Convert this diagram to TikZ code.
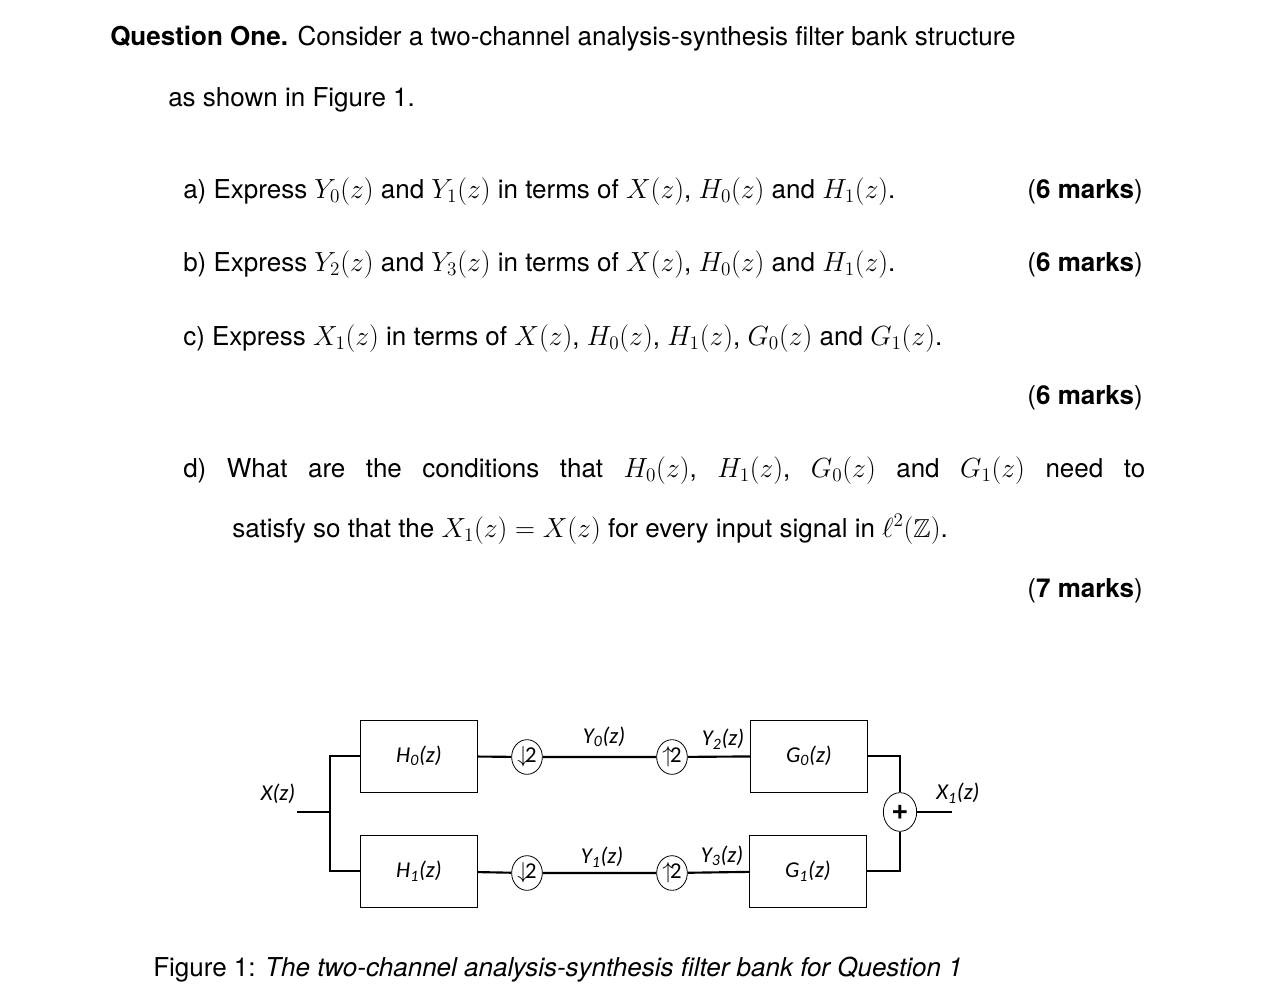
\documentclass[tikz,border=0pt]{standalone}
\usepackage{amssymb}
\usepackage{fontspec}
\usetikzlibrary{shapes.geometric}
\setmainfont{TeX Gyre Heros}
\newfontfamily\diag{Carlito}
\begin{document}
\begin{tikzpicture}[x=0.75pt,y=-0.75pt,
  txt/.style={anchor=base west,inner sep=0pt,font=\fontsize{19.5}{23}\selectfont},
  mk/.style={anchor=base east,inner sep=0pt,font=\fontsize{19.5}{23}\selectfont},
  blk/.style={draw,line width=0.6pt,minimum width=88pt,minimum height=54pt,inner sep=0pt,font=\diag\itshape\fontsize{17}{20}\selectfont},
  smp/.style={draw,ellipse,line width=0.6pt,minimum width=23pt,minimum height=26pt,inner sep=0pt,font=\diag\fontsize{17}{20}\selectfont},
  lab/.style={inner sep=0pt,font=\diag\itshape\fontsize{17}{20}\selectfont},
  ln/.style={line width=1.6pt}]
\useasboundingbox[fill=white] (0,0) rectangle (1277,999);
% text
\node[txt] (q1) at (110,46) {\textbf{Question One.} Consider a two-channel analysis-synthesis filter bank structure};
\node[txt] (q2) at (168,106) {as shown in Figure 1.};
\node[txt] (a) at (183,198) {a) Express $Y_0(z)$ and $Y_1(z)$ in terms of $X(z)$, $H_0(z)$ and $H_1(z)$.};
\node[mk] (am) at (1143,198) {(\textbf{6 marks})};
\node[txt] (b) at (183,271) {b) Express $Y_2(z)$ and $Y_3(z)$ in terms of $X(z)$, $H_0(z)$ and $H_1(z)$.};
\node[mk] (bm) at (1143,271) {(\textbf{6 marks})};
\node[txt] (c) at (183,345) {c) Express $X_1(z)$ in terms of $X(z)$, $H_0(z)$, $H_1(z)$, $G_0(z)$ and $G_1(z)$.};
\node[mk] (cm) at (1143,404) {(\textbf{6 marks})};
\node[txt,text width=721.5pt,align=left] (d) at (183,477) {d)\hfill What\hfill are\hfill the\hfill conditions\hfill that\hfill $H_0(z)$,\hfill $H_1(z)$,\hfill $G_0(z)$\hfill and\hfill $G_1(z)$\hfill need\hfill to};
\node[txt] (d2) at (232,537) {satisfy so that the $X_1(z)=X(z)$ for every input signal in $\ell^2(\mathbb{Z})$.};
\node[mk] (dm) at (1143,597) {(\textbf{7 marks})};
\node[txt] (cap) at (153,976) {Figure 1: \textit{The two-channel analysis-synthesis filter bank for Question 1}};
% diagram
\node[blk] (H0) at (419,756) {H\textsubscript{0}(z)};
\node[blk] (H1) at (419,871) {H\textsubscript{1}(z)};
\node[blk] (G0) at (809,756) {G\textsubscript{0}(z)};
\node[blk] (G1) at (808,871) {G\textsubscript{1}(z)};
\node[smp] (D0) at (527,757) {$\downarrow$\!2};
\node[smp] (U0) at (672,757) {$\uparrow$\!2};
\node[smp] (D1) at (527,873) {$\downarrow$\!2};
\node[smp] (U1) at (672,873) {$\uparrow$\!2};
\node[smp,minimum width=25pt,minimum height=29pt,font=\fontsize{22}{22}\selectfont] (S) at (900,812) {\textbf{+}};
\coordinate (in) at (297,812);
\coordinate (bus) at (330,812);
\coordinate (out) at (952,812);
\draw[ln] (in) -- (bus);
\draw[ln] (H0.west) -| (bus) |- (H1.west);
\draw[ln] (H0) -- (D0) -- (U0) -- (G0);
\draw[ln] (H1) -- (D1) -- (U1) -- (G1);
\draw[ln] (G0.east) -| (S.north);
\draw[ln] (G1.east) -| (S.south);
\draw[ln] (S) -- (out);
\node[lab] (lx) at (278,794) {X(z)};
\node[lab] (lx1) at (958,793) {X\textsubscript{1}(z)};
\node[lab] (ly0) at (604,737) {Y\textsubscript{0}(z)};
\node[lab] (ly2) at (723,739) {Y\textsubscript{2}(z)};
\node[lab] (ly1) at (602,857) {Y\textsubscript{1}(z)};
\node[lab] (ly3) at (722,856) {Y\textsubscript{3}(z)};
\end{tikzpicture}
\end{document}
